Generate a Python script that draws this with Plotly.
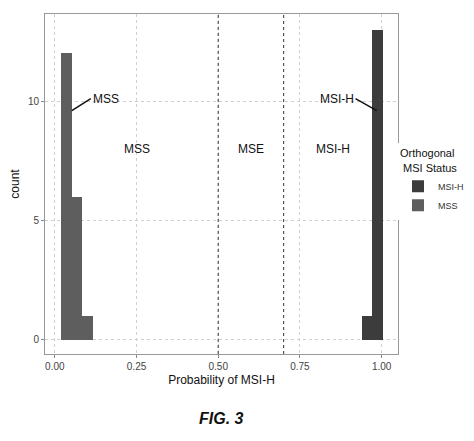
import plotly.graph_objects as go

bin_width = 0.0323
mss_centers = [0.0355, 0.0678, 0.1001]
mss_counts = [12, 6, 1]
msih_centers = [0.9548, 0.9871]
msih_counts = [1, 13]
x_ticks = [0.0, 0.25, 0.5, 0.75, 1.0]
x_tick_labels = ["0.00", "0.25", "0.50", "0.75", "1.00"]
y_ticks = [0, 5, 10]
cutoffs = [0.5, 0.7]
region_labels = ["MSS", "MSE", "MSI-H"]
region_x = [0.25, 0.6, 0.85]

fig = go.Figure()
fig.add_trace(go.Bar(x=msih_centers, y=msih_counts, width=bin_width, name="MSI-H",
                     marker=dict(color="#3c3c3c", line=dict(width=0))))
fig.add_trace(go.Bar(x=mss_centers, y=mss_counts, width=bin_width, name="MSS",
                     marker=dict(color="#5e5e5e", line=dict(width=0))))

for c in cutoffs:
    fig.add_vline(x=c, line=dict(color="#555", width=1.2, dash="dot"))

for lab, xx in zip(region_labels, region_x):
    fig.add_annotation(x=xx, y=8, text=lab, showarrow=False, font=dict(size=12, color="#111"))

fig.add_annotation(x=0.052, y=9.6, ax=0.11, ay=10.1, axref="x", ayref="y", text="MSS",
                   showarrow=True, arrowhead=0, arrowwidth=1.5, arrowcolor="#111",
                   xanchor="left", font=dict(size=12, color="#111"))
fig.add_annotation(x=0.985, y=9.6, ax=0.92, ay=10.1, axref="x", ayref="y", text="MSI-H",
                   showarrow=True, arrowhead=0, arrowwidth=1.5, arrowcolor="#111",
                   xanchor="right", font=dict(size=12, color="#111"))

fig.add_annotation(x=0.5, y=0, xref="paper", yref="paper", yshift=-75, text="<b><i>FIG. 3</i></b>",
                   showarrow=False, font=dict(size=16, color="#111"))

grid = dict(showgrid=True, gridcolor="#d0d0d0", griddash="dot", zeroline=False,
            showline=True, linecolor="#999", mirror=True, ticks="outside", ticklen=3,
            tickcolor="#888", tickfont=dict(size=10, color="#444"))
fig.update_xaxes(range=[-0.03, 1.05], tickvals=x_ticks, ticktext=x_tick_labels,
                 title=dict(text="Probability of MSI-H", font=dict(size=12, color="#111"), standoff=4), **grid)
fig.update_yaxes(range=[-0.6, 13.65], tickvals=y_ticks,
                 title=dict(text="count", font=dict(size=12, color="#111"), standoff=6), **grid)

fig.update_layout(
    width=474, height=441, barmode="overlay", bargap=0,
    plot_bgcolor="white", paper_bgcolor="white",
    font=dict(family="Liberation Sans, Arial, sans-serif"),
    margin=dict(l=34, r=84, t=5, b=95),
    legend=dict(title=dict(text="Orthogonal<br> MSI Status", font=dict(size=11, color="#111")),
                x=1.0, xanchor="left", y=0.62, yanchor="top", font=dict(size=9, color="#333"),
                traceorder="normal", itemwidth=30),
)

fig.write_html("out.html")
